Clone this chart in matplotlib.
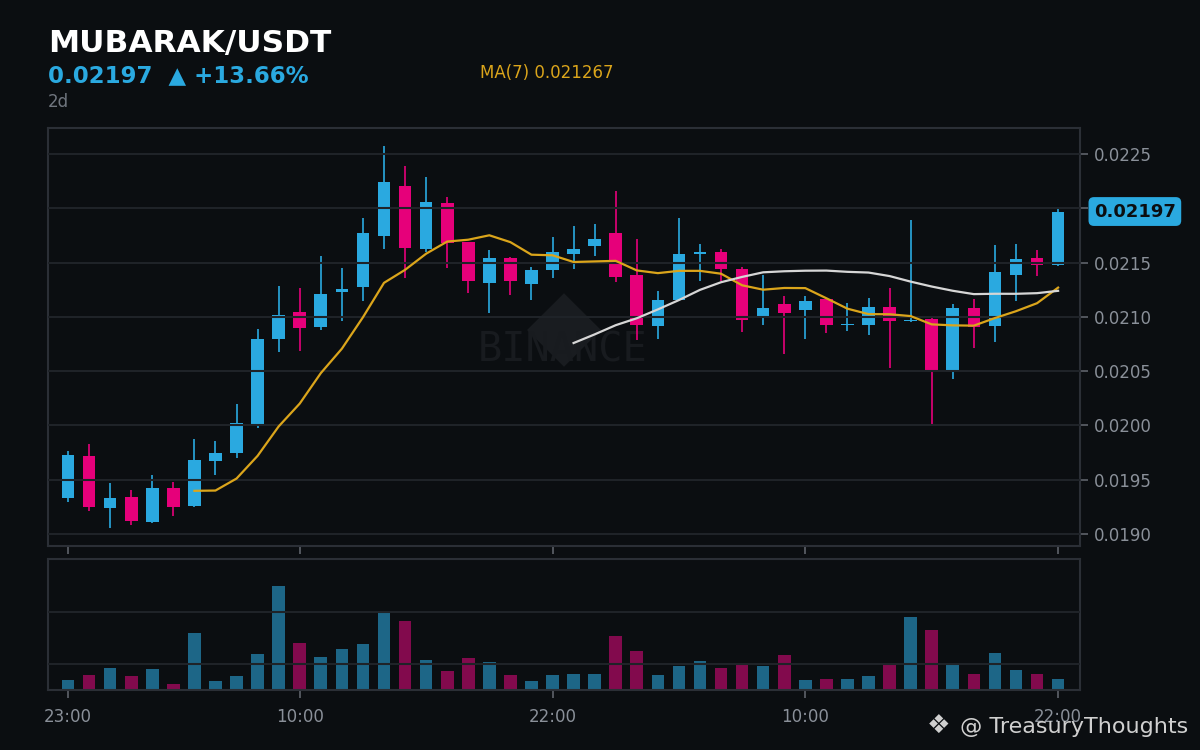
import numpy as np
import pandas as pd
import matplotlib
matplotlib.use("Agg")
import matplotlib.pyplot as plt
from matplotlib.patches import Polygon

# hourly candles, 23:00 -> 22:00 two days later
opens = [0.019332, 0.019718, 0.019240, 0.019341, 0.019111, 0.019424, 0.019258, 0.019672,
         0.019746, 0.019995, 0.020796, 0.021045, 0.020907, 0.021229, 0.021275, 0.021745,
         0.022205, 0.021625, 0.022049, 0.021689, 0.021312, 0.021542, 0.021303, 0.021432,
         0.021579, 0.021653, 0.021772, 0.021386, 0.020916, 0.021155, 0.021579, 0.021597,
         0.021441, 0.020999, 0.021118, 0.021063, 0.021164, 0.020921, 0.020925, 0.021091,
         0.020960, 0.020980, 0.020511, 0.021082, 0.020916, 0.021386, 0.021542, 0.021478]
highs = [0.019765, 0.019829, 0.019470, 0.019405, 0.019543, 0.019479, 0.019875, 0.019857,
         0.020197, 0.020888, 0.021284, 0.021266, 0.021561, 0.021450, 0.021911, 0.022574,
         0.022389, 0.022288, 0.022104, 0.021689, 0.021616, 0.021551, 0.021459, 0.021736,
         0.021837, 0.021855, 0.022159, 0.021717, 0.021238, 0.021911, 0.021671, 0.021625,
         0.021459, 0.021386, 0.021192, 0.021192, 0.021164, 0.021128, 0.021174, 0.021266,
         0.021892, 0.021008, 0.021118, 0.021164, 0.021662, 0.021671, 0.021616, 0.022003]
lows = [0.019295, 0.019212, 0.019055, 0.019083, 0.019101, 0.019166, 0.019249, 0.019543,
        0.019700, 0.019976, 0.020676, 0.020686, 0.020879, 0.020962, 0.021146, 0.021625,
        0.021358, 0.021597, 0.021450, 0.021220, 0.021036, 0.021201, 0.021155, 0.021358,
        0.021441, 0.021561, 0.021321, 0.020787, 0.020796, 0.021155, 0.021330, 0.021330,
        0.020861, 0.020925, 0.020658, 0.020796, 0.020851, 0.020870, 0.020833, 0.020529,
        0.020952, 0.020013, 0.020428, 0.020713, 0.020768, 0.021146, 0.021376, 0.021468]
closes = [0.019728, 0.019249, 0.019332, 0.019120, 0.019424, 0.019249, 0.019682, 0.019746,
          0.020022, 0.020796, 0.021017, 0.020897, 0.021211, 0.021257, 0.021772, 0.022242,
          0.021634, 0.022058, 0.021680, 0.021330, 0.021542, 0.021330, 0.021432, 0.021597,
          0.021625, 0.021717, 0.021367, 0.020925, 0.021155, 0.021579, 0.021597, 0.021441,
          0.020971, 0.021082, 0.021036, 0.021146, 0.020925, 0.020925, 0.021091, 0.020962,
          0.020965, 0.020501, 0.021082, 0.020907, 0.021413, 0.021533, 0.021478, 0.021970]
volumes = [0.38, 0.58, 0.85, 0.54, 0.81, 0.23, 2.19, 0.35, 0.54, 1.38, 4.00, 1.81,
           1.27, 1.58, 1.77, 2.96, 2.65, 1.15, 0.73, 1.23, 1.08, 0.58, 0.35, 0.58,
           0.62, 0.62, 2.08, 1.50, 0.58, 0.92, 1.12, 0.85, 0.96, 0.92, 1.35, 0.38,
           0.42, 0.42, 0.54, 0.96, 2.81, 2.31, 0.96, 0.62, 1.42, 0.77, 0.62, 0.42]
tick_idx = [0, 11, 23, 35, 47]
tick_labels = ["23:00", "10:00", "22:00", "10:00", "22:00"]
price_ticks = [0.0190, 0.0195, 0.0200, 0.0205, 0.0210, 0.0215, 0.0220, 0.0225]
last_price = "0.02197"
change_pct = "+13.66%"
ma7_label = "MA(7) 0.021267"

BG = "#0b0e11"
GRID = "#1f2328"
SPINE = "#2b2f36"
TXT = "#8a9099"
UP = "#2aa9e0"
DOWN = "#e6007a"
UP_V = "#1d6687"
DOWN_V = "#820a4d"

df = pd.DataFrame({"o": opens, "h": highs, "l": lows, "c": closes, "v": volumes})
df["ma7"] = df["c"].rolling(7).mean()
df["ma25"] = df["c"].rolling(25).mean()
x = np.arange(len(df))
up = df["c"] >= df["o"]
cols = np.where(up, UP, DOWN)
vcols = np.where(up, UP_V, DOWN_V)

fig = plt.figure(figsize=(12, 7.5), dpi=100, facecolor=BG)
ax = fig.add_axes([0.04, 0.272, 0.86, 0.5573], facecolor=BG)
axv = fig.add_axes([0.04, 0.08, 0.86, 0.1747], facecolor=BG)
ax.set_zorder(2)
axv.set_zorder(2)
ax.patch.set_alpha(0)

# watermark behind the price panel
fig.patches.append(Polygon([[0.47, 0.609], [0.5008, 0.56], [0.47, 0.511], [0.4392, 0.56]],
                           closed=True, transform=fig.transFigure, facecolor="#191c20",
                           edgecolor="none", zorder=0.5))
fig.text(0.469, 0.533, "BINANCE", family="DejaVu Sans Mono", fontsize=29,
         color="#181b1f", ha="center", va="center", zorder=0.6)

# candles
ax.vlines(x, df["l"], df["h"], colors=cols, linewidth=1.2, zorder=2)
body_lo = np.minimum(df["o"], df["c"])
body_h = np.maximum((df["c"] - df["o"]).abs(), 0.000012)
ax.bar(x, body_h, bottom=body_lo, width=0.6, color=cols, zorder=2)

for p in price_ticks:
    ax.axhline(p, color=GRID, linewidth=1.5, zorder=3)

ax.plot(x, df["ma7"], color="#dba51b", linewidth=1.6, zorder=4)
ax.plot(x, df["ma25"], color="#d6d6d6", linewidth=1.6, zorder=4)

ax.set_xlim(-0.95, 48.04)
ax.set_ylim(0.0188895, 0.022739)
ax.yaxis.tick_right()
ax.set_yticks(price_ticks)
# 0.0220 sits under the last-price tag
ax.set_yticklabels(["" if abs(p - 0.0220) < 1e-9 else "%.4f" % p for p in price_ticks])
ax.set_xticks(tick_idx)
ax.set_xticklabels([])
ax.tick_params(colors="#5e636b", labelcolor=TXT, labelsize=12, length=6, width=1.2)
ax.tick_params(axis="y", pad=4)
for s in ax.spines.values():
    s.set_color(SPINE)
    s.set_linewidth(1.5)

# last price tag
ax.text(1.0135, closes[-1], last_price, transform=ax.get_yaxis_transform(),
        ha="left", va="center", fontsize=13, fontweight="bold", color="#0b0e11",
        bbox=dict(boxstyle="round,pad=0.3", facecolor=UP, edgecolor="none"), clip_on=False)

# volume
axv.bar(x, df["v"], width=0.6, color=vcols, zorder=2)
for g in [1.0, 3.0]:
    axv.axhline(g, color=GRID, linewidth=1.5, zorder=3)
axv.set_xlim(-0.95, 48.04)
axv.set_ylim(0, 5.04)
axv.set_yticks([])
axv.set_xticks(tick_idx)
axv.set_xticklabels(tick_labels)
axv.tick_params(colors="#5e636b", labelcolor=TXT, labelsize=12, length=6, width=1.2, pad=7)
for s in axv.spines.values():
    s.set_color(SPINE)
    s.set_linewidth(1.5)

# header
fig.text(0.04, 0.9307, "MUBARAK/USDT", fontsize=22.5, fontweight="bold", color="white",
         va="baseline")
fig.text(0.04, 0.8907, last_price + "  \u25b2 " + change_pct, fontsize=16.5,
         fontweight="bold", color=UP, va="baseline")
fig.text(0.04, 0.857, "2d", fontsize=12, color="#70767f", va="baseline")
fig.text(0.4, 0.896, ma7_label, fontsize=12, color="#dba51b", va="baseline")
fig.text(0.772, 0.0227, "\u2756", fontsize=19, color="#d0d0d0", va="baseline")
fig.text(0.8, 0.0227, "@ TreasuryThoughts", fontsize=16, color="#d0d0d0", va="baseline")

fig.savefig("out.png", dpi=100, facecolor=BG)
